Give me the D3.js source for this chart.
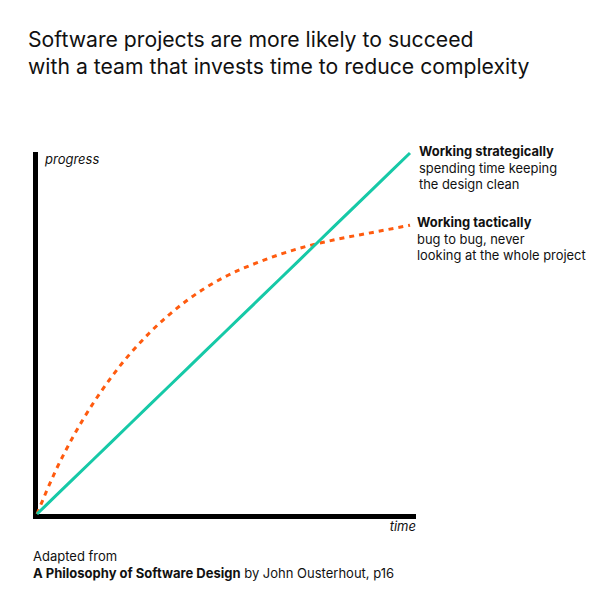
<!DOCTYPE html>
<html>
<head>
<meta charset="utf-8">
<script src="https://cdn.jsdelivr.net/npm/d3@7"></script>
<style>
  body { margin: 0; background: #fff; }
  svg text { font-family: Inter, "Noto Sans", sans-serif; fill: #111; }
</style>
</head>
<body>
<div id="viz"></div>
<script>
// values (time 0-100, progress 0-100)
var time = [0, 5, 10, 20, 30, 40, 50, 60, 70, 80, 90, 100];
var strategic = [0, 5, 10, 20, 30, 40, 50, 60, 70, 80, 90, 100];
var tactical = [0, 12, 22, 38, 50, 59, 65.5, 70, 73.5, 76, 78, 80];

var titleLines = ["Software projects are more likely to succeed", "with a team that invests time to reduce complexity"];
var strategicLabel = ["Working strategically", "spending time keeping", "the design clean"];
var tacticalLabel = ["Working tactically", "bug to bug, never", "looking at the whole project"];

var width = 600, height = 600;

var svg = d3.select("#viz")
	.append("svg")
	.attr("width", width)
	.attr("height", height);

var x = d3.scaleLinear().domain([0, 100]).range([37, 410]);
var y = d3.scaleLinear().domain([0, 100]).range([514, 153]);

// title
svg.append("text")
	.attr("x", 28)
	.attr("y", 47)
	.attr("font-size", 21.2)
	.selectAll("tspan")
	.data(titleLines)
	.enter()
	.append("tspan")
	.attr("x", 28)
	.attr("dy", (d, i) => i ? 26.5 : 0)
	.text(d => d);

// axes
svg.append("line")
	.attr("x1", 35.5).attr("x2", 35.5)
	.attr("y1", 152).attr("y2", 519)
	.attr("stroke", "#000").attr("stroke-width", 5);
svg.append("line")
	.attr("x1", 33).attr("x2", 416)
	.attr("y1", 516.5).attr("y2", 516.5)
	.attr("stroke", "#000").attr("stroke-width", 5);

svg.append("text")
	.attr("x", 45).attr("y", 164)
	.attr("font-size", 13)
	.attr("font-style", "italic")
	.text("progress");
svg.append("text")
	.attr("x", 416).attr("y", 531)
	.attr("text-anchor", "end")
	.attr("font-size", 13)
	.attr("font-style", "italic")
	.text("time");

// lines
var line = d3.line()
	.x((d, i) => x(time[i]))
	.y(d => y(d))
	.curve(d3.curveMonotoneX);

svg.append("path")
	.attr("d", line(tactical))
	.attr("fill", "none")
	.attr("stroke", "#ff5b0f")
	.attr("stroke-width", 3)
	.attr("stroke-dasharray", "5,5");

svg.append("path")
	.attr("d", line(strategic))
	.attr("fill", "none")
	.attr("stroke", "#16c9a7")
	.attr("stroke-width", 3);

// labels
function label(lines, lx, ly) {
	var t = svg.append("text")
		.attr("x", lx)
		.attr("y", ly)
		.attr("font-size", 12.9);
	t.selectAll("tspan")
		.data(lines)
		.enter()
		.append("tspan")
		.attr("x", lx)
		.attr("dy", (d, i) => i ? 16.5 : 0)
		.attr("font-weight", (d, i) => i ? 400 : 700)
		.text(d => d);
}
label(strategicLabel, 419, 156);
label(tacticalLabel, 417, 227);

// source
var src = svg.append("text")
	.attr("x", 33).attr("y", 561)
	.attr("font-size", 13);
src.append("tspan").text("Adapted from");
src.append("tspan").attr("x", 33).attr("dy", 17)
	.attr("font-weight", 700).text("A Philosophy of Software Design");
src.append("tspan").text(" by John Ousterhout, p16");
</script>
</body>
</html>
